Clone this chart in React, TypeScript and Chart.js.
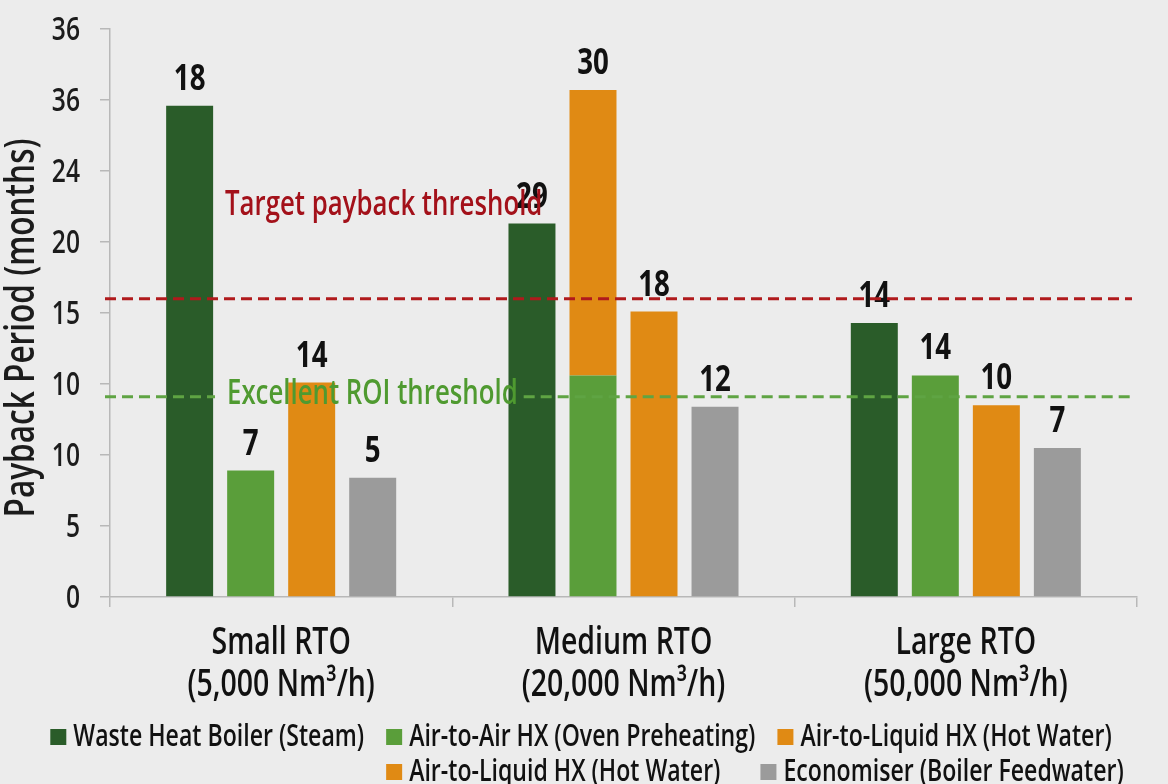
import React, { useEffect, useRef } from "react";
import { Chart, registerables } from "chart.js";

Chart.register(...registerables);

// Categories (two-line axis labels)
const categories: string[][] = [
  ["Small RTO", "(5,000 Nm³/h)"],
  ["Medium RTO", "(20,000 Nm³/h)"],
  ["Large RTO", "(50,000 Nm³/h)"],
];

// Y axis tick labels, bottom to top
const yTickLabels = ["0", "5", "10", "10", "15", "20", "24", "36", "36"];
const yAxisTitle = "Payback Period (months)";

// Bar heights on the y scale
const wasteHeatBoiler = [34.6, 26.3, 19.3];
const airToAir = [8.9, 15.6, 15.6];
const airToLiquid = [15.1, 20.1, 13.5];
const airToLiquidStacked = [null, 20.1, null];
const economiser = [8.4, 13.4, 10.5];

// Text printed above each bar
const wasteHeatBoilerText = ["18", "29", "14"];
const airToAirText = ["7", "", "14"];
const airToLiquidText = ["14", "18", "10"];
const airToLiquidStackedText = ["", "30", ""];
const economiserText = ["5", "12", "7"];

// Reference lines
const targetPayback = 21.0;
const excellentRoi = 14.1;
const targetLabel = "Target payback threshold";
const roiLabel = "Excellent ROI threshold";

const FAMILY = "'Open Sans', 'Noto Sans', sans-serif";
const SX = 0.77; // horizontal condensing applied to all text
const BG = "#ececec";

const COLORS = {
  boiler: "#2a5c29",
  air: "#5a9e3a",
  liquid: "#e08a14",
  econ: "#9b9b9b",
  red: "#b01a1c",
  redText: "#a3111a",
  green: "#5fa443",
  greenText: "#4f9a30",
  text: "#111",
  axis: "#b8b8b8",
};

function drawText(
  ctx: CanvasRenderingContext2D,
  text: string,
  x: number,
  y: number,
  font: string,
  color: string,
  align: CanvasTextAlign = "left"
) {
  ctx.save();
  ctx.font = font;
  ctx.fillStyle = color;
  ctx.textBaseline = "alphabetic";
  ctx.textAlign = align;
  ctx.translate(x, y);
  ctx.scale(SX, 1);
  ctx.fillText(text, 0, 0);
  ctx.restore();
}

function textWidth(ctx: CanvasRenderingContext2D, text: string, font: string) {
  ctx.save();
  ctx.font = font;
  const w = ctx.measureText(text).width * SX;
  ctx.restore();
  return w;
}

const backgroundPlugin = {
  id: "bgFill",
  beforeDraw(chart: any) {
    const { ctx, width, height } = chart;
    ctx.save();
    ctx.fillStyle = BG;
    ctx.fillRect(0, 0, width, height);
    ctx.restore();
  },
};

// Axis tick labels and axis title
const axisTextPlugin = {
  id: "axisText",
  afterDraw(chart: any) {
    const { ctx, chartArea, scales } = chart;
    const tickFont = `600 32px ${FAMILY}`;
    scales.y.ticks.forEach((_t: any, i: number) => {
      const py = scales.y.getPixelForTick(i);
      drawText(ctx, yTickLabels[i] ?? "", chartArea.left - 30, py + 10.5, tickFont, "#1c1c1c", "right");
    });

    const catFont = `600 37px ${FAMILY}`;
    categories.forEach((lines, i) => {
      const px = scales.x.getPixelForTick(i);
      drawText(ctx, lines[0], px, chartArea.bottom + 57, catFont, COLORS.text, "center");
      drawText(ctx, lines[1], px, chartArea.bottom + 99, catFont, COLORS.text, "center");
    });

    ctx.save();
    ctx.translate(34, (chartArea.top + chartArea.bottom) / 2 + 15);
    ctx.rotate(-Math.PI / 2);
    drawText(ctx, yAxisTitle, 0, 0, `600 41px ${FAMILY}`, "#1c1c1c", "center");
    ctx.restore();
  },
};

const annotationsPlugin = {
  id: "barAnnotations",
  afterDatasetsDraw(chart: any) {
    const { ctx, chartArea, scales } = chart;
    const texts: string[][] = chart.options.plugins.barAnnotations.texts;

    // value labels above bars
    const valueFont = `bold 36px ${FAMILY}`;
    chart.data.datasets.forEach((_: any, di: number) => {
      const meta = chart.getDatasetMeta(di);
      meta.data.forEach((el: any, i: number) => {
        const t = texts[di][i];
        if (!t) return;
        drawText(ctx, t, el.x, el.y - 16, valueFont, COLORS.text, "center");
      });
    });

    const y = scales.y;
    const xStart = chartArea.left - 5;
    const xEnd = chartArea.right - 5;
    const textX = chartArea.left + 117;
    const lineFont = `600 33.5px ${FAMILY}`;

    // Excellent ROI line, broken around its label
    const roiW = textWidth(ctx, roiLabel, lineFont);
    const yRoi = y.getPixelForValue(excellentRoi);
    ctx.save();
    ctx.strokeStyle = COLORS.green;
    ctx.lineWidth = 3;
    ctx.setLineDash([11, 6]);
    ctx.beginPath();
    ctx.moveTo(xStart, yRoi);
    ctx.lineTo(textX - 12, yRoi);
    ctx.moveTo(textX + roiW + 6, yRoi);
    ctx.lineTo(xEnd, yRoi);
    ctx.stroke();

    // Target payback line
    const yTarget = y.getPixelForValue(targetPayback);
    ctx.strokeStyle = COLORS.red;
    ctx.beginPath();
    ctx.moveTo(xStart, yTarget);
    ctx.lineTo(xEnd, yTarget);
    ctx.stroke();
    ctx.restore();

    drawText(ctx, roiLabel, textX, yRoi + 7, lineFont, COLORS.greenText, "left");
    drawText(ctx, targetLabel, textX - 2, yTarget - 84, lineFont, COLORS.redText, "left");
  },
};

const legendPlugin = {
  id: "wrapLegend",
  afterDraw(chart: any) {
    const { ctx, width } = chart;
    const ds = chart.data.datasets;
    const font = `600 30px ${FAMILY}`;
    const box = 16;
    const boxGap = 7;
    const itemGap = 22;
    const widths = ds.map((d: any) => box + boxGap + textWidth(ctx, d.label, font));
    const row1 = [0, 1, 2];
    const row1W = row1.reduce((s, i) => s + widths[i], 0) + itemGap * (row1.length - 1);
    let x = width / 2 - 3 - row1W / 2;
    const cols: number[] = [];
    const drawItem = (i: number, px: number, baseline: number) => {
      ctx.save();
      ctx.fillStyle = ds[i].backgroundColor;
      ctx.fillRect(px, baseline - 17, box, box);
      ctx.restore();
      drawText(ctx, ds[i].label, px + box + boxGap, baseline, font, COLORS.text, "left");
    };
    const b1 = 746;
    const b2 = 781;
    row1.forEach((i) => {
      cols.push(x);
      drawItem(i, x, b1);
      x += widths[i] + itemGap;
    });
    drawItem(3, cols[1], b2);
    drawItem(4, cols[1] + widths[3] + 40, b2);
  },
};

export default function App() {
  const canvasRef = useRef<HTMLCanvasElement | null>(null);

  useEffect(() => {
    document.body.style.margin = "0";
    document.body.style.background = BG;
    const canvas = canvasRef.current;
    if (!canvas) return;

    const chart = new Chart(canvas, {
      type: "bar",
      data: {
        labels: categories,
        datasets: [
          {
            label: "Waste Heat Boiler (Steam)",
            data: wasteHeatBoiler,
            backgroundColor: COLORS.boiler,
            stack: "s1",
          },
          {
            label: "Air-to-Air HX (Oven Preheating)",
            data: airToAir,
            backgroundColor: COLORS.air,
            stack: "s2",
          },
          {
            label: "Air-to-Liquid HX (Hot Water)",
            data: airToLiquid,
            backgroundColor: COLORS.liquid,
            stack: "s3",
          },
          {
            label: "Air-to-Liquid HX (Hot Water)",
            data: airToLiquidStacked,
            backgroundColor: COLORS.liquid,
            stack: "s2",
          },
          {
            label: "Economiser (Boiler Feedwater)",
            data: economiser,
            backgroundColor: COLORS.econ,
            stack: "s4",
          },
        ],
      },
      options: {
        responsive: false,
        animation: false,
        devicePixelRatio: 1,
        categoryPercentage: 0.713,
        barPercentage: 0.77,
        layout: { padding: { top: 29, left: 0, right: 31, bottom: 80 } },
        plugins: {
          legend: { display: false },
          tooltip: { enabled: false },
          barAnnotations: {
            texts: [
              wasteHeatBoilerText,
              airToAirText,
              airToLiquidText,
              airToLiquidStackedText,
              economiserText,
            ],
          },
        } as any,
        scales: {
          x: {
            stacked: true,
            afterFit: (s: any) => {
              s.height = 107;
            },
            grid: {
              drawOnChartArea: false,
              drawTicks: true,
              tickLength: 10,
              color: COLORS.axis,
              lineWidth: 1.5,
            },
            border: { color: COLORS.axis, width: 1.5 },
            ticks: { display: false },
          },
          y: {
            stacked: true,
            min: 0,
            max: 40,
            afterFit: (s: any) => {
              s.width = 110;
            },
            grid: {
              drawOnChartArea: false,
              drawTicks: true,
              tickLength: 10,
              color: COLORS.axis,
              lineWidth: 1.5,
            },
            border: { color: COLORS.axis, width: 1.5 },
            ticks: { stepSize: 5, display: false },
          },
        },
      },
      plugins: [backgroundPlugin, annotationsPlugin, axisTextPlugin, legendPlugin],
    });

    return () => chart.destroy();
  }, []);

  return (
    <div style={{ width: 1168, height: 784, background: BG }}>
      <canvas ref={canvasRef} width={1168} height={784} style={{ display: "block" }} />
    </div>
  );
}
